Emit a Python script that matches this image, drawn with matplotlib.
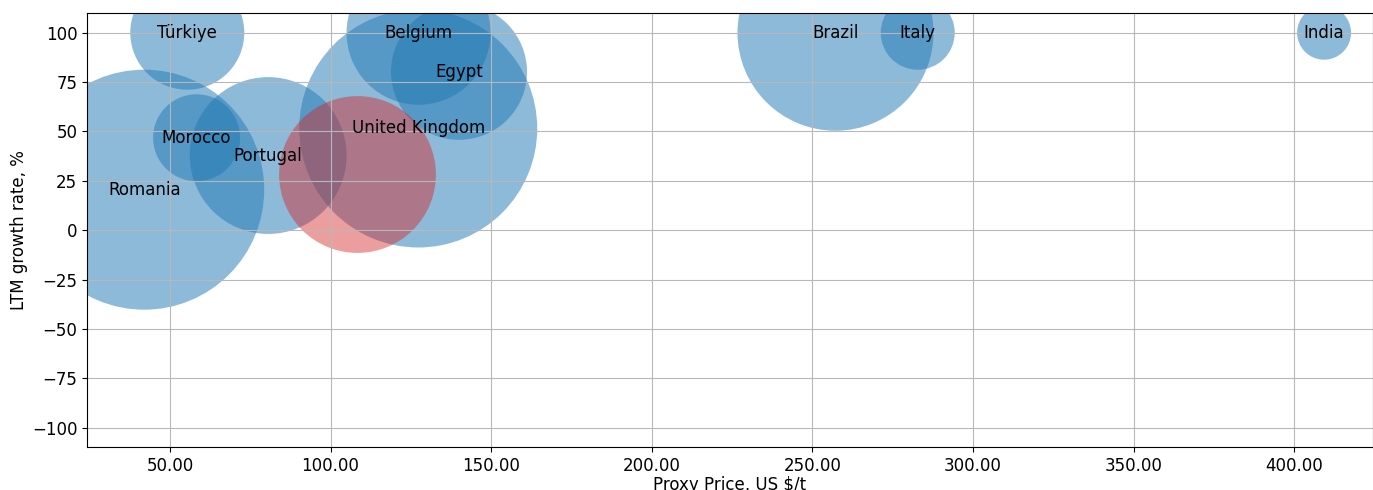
import matplotlib
matplotlib.use("Agg")
import matplotlib.pyplot as plt
from matplotlib.ticker import FormatStrFormatter

countries = ["Türkiye", "Romania", "Morocco", "Portugal", "United Kingdom",
             "Belgium", "Egypt", "Brazil", "Italy", "India"]
proxy_price = [55.4, 42.0, 58.3, 80.6, 127.3, 127.4, 140.0, 257.2, 282.8, 409.3]
growth_rate = [100, 20.5, 46.8, 37.8, 51.5, 100, 80.2, 100, 100, 100]
volume = [6740, 29860, 3920, 12750, 29370, 10750, 9590, 19920, 2840, 1510]

# highlighted (unlabelled) point
hl_price = [108.2]
hl_growth = [28.2]
hl_volume = [12750]

fig = plt.figure(figsize=(13.73, 4.9), dpi=100)
ax = fig.add_axes([0.0634, 0.0871, 0.9363, 0.8864])

ax.scatter(proxy_price, growth_rate, s=volume, color="#1f77b4", alpha=0.5, linewidths=0)
ax.scatter(hl_price, hl_growth, s=hl_volume, color="#d62728", alpha=0.45, linewidths=0)

for name, x, y in zip(countries, proxy_price, growth_rate):
    ax.text(x, y, name, ha="center", va="center", fontsize=12)

ax.set_xlim(24.2, 424.4)
ax.set_ylim(-110, 110)
ax.xaxis.set_major_formatter(FormatStrFormatter("%.2f"))
ax.grid(True, color="#b8b8b8", linewidth=0.8)
ax.tick_params(labelsize=12)
ax.set_xlabel("Proxy Price, US $/t", fontsize=12, labelpad=1)
ax.set_ylabel("LTM growth rate, %", fontsize=12, labelpad=3)

fig.savefig("out.png", dpi=100)
